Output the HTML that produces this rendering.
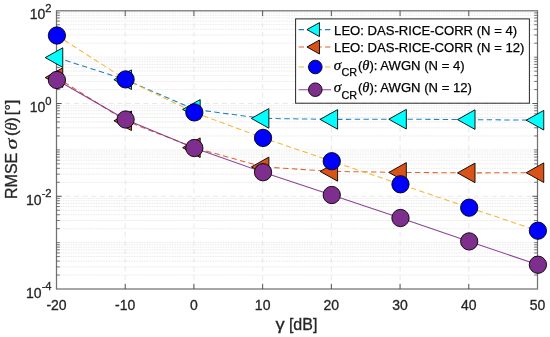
<!DOCTYPE html>
<html><head><meta charset="utf-8"><title>RMSE plot</title>
<style>html,body{margin:0;padding:0;background:#fff}body{width:550px;height:337px;overflow:hidden}</style></head>
<body>
<svg width="550" height="337" viewBox="0 0 550 337" style="display:block;font-family:'Liberation Sans',sans-serif">
<rect width="550" height="337" fill="#fff"/>
<g stroke="#cfcfcf" stroke-width="0.6" stroke-dasharray="0.75 0.9" fill="none">
<line x1="56.5" y1="275.04" x2="537.5" y2="275.04"/>
<line x1="56.5" y1="266.88" x2="537.5" y2="266.88"/>
<line x1="56.5" y1="261.08" x2="537.5" y2="261.08"/>
<line x1="56.5" y1="256.59" x2="537.5" y2="256.59"/>
<line x1="56.5" y1="252.92" x2="537.5" y2="252.92"/>
<line x1="56.5" y1="249.82" x2="537.5" y2="249.82"/>
<line x1="56.5" y1="247.13" x2="537.5" y2="247.13"/>
<line x1="56.5" y1="244.75" x2="537.5" y2="244.75"/>
<line x1="56.5" y1="228.68" x2="537.5" y2="228.68"/>
<line x1="56.5" y1="220.51" x2="537.5" y2="220.51"/>
<line x1="56.5" y1="214.72" x2="537.5" y2="214.72"/>
<line x1="56.5" y1="210.22" x2="537.5" y2="210.22"/>
<line x1="56.5" y1="206.55" x2="537.5" y2="206.55"/>
<line x1="56.5" y1="203.45" x2="537.5" y2="203.45"/>
<line x1="56.5" y1="200.76" x2="537.5" y2="200.76"/>
<line x1="56.5" y1="198.39" x2="537.5" y2="198.39"/>
<line x1="56.5" y1="182.31" x2="537.5" y2="182.31"/>
<line x1="56.5" y1="174.14" x2="537.5" y2="174.14"/>
<line x1="56.5" y1="168.35" x2="537.5" y2="168.35"/>
<line x1="56.5" y1="163.86" x2="537.5" y2="163.86"/>
<line x1="56.5" y1="160.19" x2="537.5" y2="160.19"/>
<line x1="56.5" y1="157.08" x2="537.5" y2="157.08"/>
<line x1="56.5" y1="154.39" x2="537.5" y2="154.39"/>
<line x1="56.5" y1="152.02" x2="537.5" y2="152.02"/>
<line x1="56.5" y1="135.94" x2="537.5" y2="135.94"/>
<line x1="56.5" y1="127.78" x2="537.5" y2="127.78"/>
<line x1="56.5" y1="121.98" x2="537.5" y2="121.98"/>
<line x1="56.5" y1="117.49" x2="537.5" y2="117.49"/>
<line x1="56.5" y1="113.82" x2="537.5" y2="113.82"/>
<line x1="56.5" y1="110.72" x2="537.5" y2="110.72"/>
<line x1="56.5" y1="108.03" x2="537.5" y2="108.03"/>
<line x1="56.5" y1="105.65" x2="537.5" y2="105.65"/>
<line x1="56.5" y1="89.58" x2="537.5" y2="89.58"/>
<line x1="56.5" y1="81.41" x2="537.5" y2="81.41"/>
<line x1="56.5" y1="75.62" x2="537.5" y2="75.62"/>
<line x1="56.5" y1="71.12" x2="537.5" y2="71.12"/>
<line x1="56.5" y1="67.45" x2="537.5" y2="67.45"/>
<line x1="56.5" y1="64.35" x2="537.5" y2="64.35"/>
<line x1="56.5" y1="61.66" x2="537.5" y2="61.66"/>
<line x1="56.5" y1="59.29" x2="537.5" y2="59.29"/>
<line x1="56.5" y1="43.21" x2="537.5" y2="43.21"/>
<line x1="56.5" y1="35.04" x2="537.5" y2="35.04"/>
<line x1="56.5" y1="29.25" x2="537.5" y2="29.25"/>
<line x1="56.5" y1="24.76" x2="537.5" y2="24.76"/>
<line x1="56.5" y1="21.09" x2="537.5" y2="21.09"/>
<line x1="56.5" y1="17.98" x2="537.5" y2="17.98"/>
<line x1="56.5" y1="15.29" x2="537.5" y2="15.29"/>
<line x1="56.5" y1="12.92" x2="537.5" y2="12.92"/>
<line x1="56.5" y1="242.63" x2="537.5" y2="242.63"/>
<line x1="56.5" y1="149.90" x2="537.5" y2="149.90"/>
<line x1="56.5" y1="57.17" x2="537.5" y2="57.17"/>
</g>
<g stroke="#d9d9d9" stroke-width="0.6" stroke-dasharray="5 3.7" fill="none">
<line x1="56.5" y1="196.27" x2="537.5" y2="196.27"/>
<line x1="56.5" y1="103.53" x2="537.5" y2="103.53"/>
<line x1="125.21" y1="289.0" x2="125.21" y2="10.8"/>
<line x1="193.93" y1="289.0" x2="193.93" y2="10.8"/>
<line x1="262.64" y1="289.0" x2="262.64" y2="10.8"/>
<line x1="331.36" y1="289.0" x2="331.36" y2="10.8"/>
<line x1="400.07" y1="289.0" x2="400.07" y2="10.8"/>
<line x1="468.79" y1="289.0" x2="468.79" y2="10.8"/>
</g>
<rect x="56.5" y="10.8" width="481.0" height="278.2" fill="none" stroke="#727272" stroke-width="1.25"/>
<g stroke="#444" stroke-width="0.9" fill="none">
<line x1="125.21" y1="289.0" x2="125.21" y2="283.8"/>
<line x1="125.21" y1="10.8" x2="125.21" y2="16.0"/>
<line x1="193.93" y1="289.0" x2="193.93" y2="283.8"/>
<line x1="193.93" y1="10.8" x2="193.93" y2="16.0"/>
<line x1="262.64" y1="289.0" x2="262.64" y2="283.8"/>
<line x1="262.64" y1="10.8" x2="262.64" y2="16.0"/>
<line x1="331.36" y1="289.0" x2="331.36" y2="283.8"/>
<line x1="331.36" y1="10.8" x2="331.36" y2="16.0"/>
<line x1="400.07" y1="289.0" x2="400.07" y2="283.8"/>
<line x1="400.07" y1="10.8" x2="400.07" y2="16.0"/>
<line x1="468.79" y1="289.0" x2="468.79" y2="283.8"/>
<line x1="468.79" y1="10.8" x2="468.79" y2="16.0"/>
<line x1="56.5" y1="196.27" x2="61.7" y2="196.27"/>
<line x1="537.5" y1="196.27" x2="532.3" y2="196.27"/>
<line x1="56.5" y1="103.53" x2="61.7" y2="103.53"/>
<line x1="537.5" y1="103.53" x2="532.3" y2="103.53"/>
</g>
<g stroke="#444" stroke-width="0.7" fill="none">
<line x1="56.5" y1="275.04" x2="59.9" y2="275.04"/>
<line x1="537.5" y1="275.04" x2="534.1" y2="275.04"/>
<line x1="56.5" y1="266.88" x2="59.9" y2="266.88"/>
<line x1="537.5" y1="266.88" x2="534.1" y2="266.88"/>
<line x1="56.5" y1="261.08" x2="59.9" y2="261.08"/>
<line x1="537.5" y1="261.08" x2="534.1" y2="261.08"/>
<line x1="56.5" y1="256.59" x2="59.9" y2="256.59"/>
<line x1="537.5" y1="256.59" x2="534.1" y2="256.59"/>
<line x1="56.5" y1="252.92" x2="59.9" y2="252.92"/>
<line x1="537.5" y1="252.92" x2="534.1" y2="252.92"/>
<line x1="56.5" y1="249.82" x2="59.9" y2="249.82"/>
<line x1="537.5" y1="249.82" x2="534.1" y2="249.82"/>
<line x1="56.5" y1="247.13" x2="59.9" y2="247.13"/>
<line x1="537.5" y1="247.13" x2="534.1" y2="247.13"/>
<line x1="56.5" y1="244.75" x2="59.9" y2="244.75"/>
<line x1="537.5" y1="244.75" x2="534.1" y2="244.75"/>
<line x1="56.5" y1="228.68" x2="59.9" y2="228.68"/>
<line x1="537.5" y1="228.68" x2="534.1" y2="228.68"/>
<line x1="56.5" y1="220.51" x2="59.9" y2="220.51"/>
<line x1="537.5" y1="220.51" x2="534.1" y2="220.51"/>
<line x1="56.5" y1="214.72" x2="59.9" y2="214.72"/>
<line x1="537.5" y1="214.72" x2="534.1" y2="214.72"/>
<line x1="56.5" y1="210.22" x2="59.9" y2="210.22"/>
<line x1="537.5" y1="210.22" x2="534.1" y2="210.22"/>
<line x1="56.5" y1="206.55" x2="59.9" y2="206.55"/>
<line x1="537.5" y1="206.55" x2="534.1" y2="206.55"/>
<line x1="56.5" y1="203.45" x2="59.9" y2="203.45"/>
<line x1="537.5" y1="203.45" x2="534.1" y2="203.45"/>
<line x1="56.5" y1="200.76" x2="59.9" y2="200.76"/>
<line x1="537.5" y1="200.76" x2="534.1" y2="200.76"/>
<line x1="56.5" y1="198.39" x2="59.9" y2="198.39"/>
<line x1="537.5" y1="198.39" x2="534.1" y2="198.39"/>
<line x1="56.5" y1="182.31" x2="59.9" y2="182.31"/>
<line x1="537.5" y1="182.31" x2="534.1" y2="182.31"/>
<line x1="56.5" y1="174.14" x2="59.9" y2="174.14"/>
<line x1="537.5" y1="174.14" x2="534.1" y2="174.14"/>
<line x1="56.5" y1="168.35" x2="59.9" y2="168.35"/>
<line x1="537.5" y1="168.35" x2="534.1" y2="168.35"/>
<line x1="56.5" y1="163.86" x2="59.9" y2="163.86"/>
<line x1="537.5" y1="163.86" x2="534.1" y2="163.86"/>
<line x1="56.5" y1="160.19" x2="59.9" y2="160.19"/>
<line x1="537.5" y1="160.19" x2="534.1" y2="160.19"/>
<line x1="56.5" y1="157.08" x2="59.9" y2="157.08"/>
<line x1="537.5" y1="157.08" x2="534.1" y2="157.08"/>
<line x1="56.5" y1="154.39" x2="59.9" y2="154.39"/>
<line x1="537.5" y1="154.39" x2="534.1" y2="154.39"/>
<line x1="56.5" y1="152.02" x2="59.9" y2="152.02"/>
<line x1="537.5" y1="152.02" x2="534.1" y2="152.02"/>
<line x1="56.5" y1="135.94" x2="59.9" y2="135.94"/>
<line x1="537.5" y1="135.94" x2="534.1" y2="135.94"/>
<line x1="56.5" y1="127.78" x2="59.9" y2="127.78"/>
<line x1="537.5" y1="127.78" x2="534.1" y2="127.78"/>
<line x1="56.5" y1="121.98" x2="59.9" y2="121.98"/>
<line x1="537.5" y1="121.98" x2="534.1" y2="121.98"/>
<line x1="56.5" y1="117.49" x2="59.9" y2="117.49"/>
<line x1="537.5" y1="117.49" x2="534.1" y2="117.49"/>
<line x1="56.5" y1="113.82" x2="59.9" y2="113.82"/>
<line x1="537.5" y1="113.82" x2="534.1" y2="113.82"/>
<line x1="56.5" y1="110.72" x2="59.9" y2="110.72"/>
<line x1="537.5" y1="110.72" x2="534.1" y2="110.72"/>
<line x1="56.5" y1="108.03" x2="59.9" y2="108.03"/>
<line x1="537.5" y1="108.03" x2="534.1" y2="108.03"/>
<line x1="56.5" y1="105.65" x2="59.9" y2="105.65"/>
<line x1="537.5" y1="105.65" x2="534.1" y2="105.65"/>
<line x1="56.5" y1="89.58" x2="59.9" y2="89.58"/>
<line x1="537.5" y1="89.58" x2="534.1" y2="89.58"/>
<line x1="56.5" y1="81.41" x2="59.9" y2="81.41"/>
<line x1="537.5" y1="81.41" x2="534.1" y2="81.41"/>
<line x1="56.5" y1="75.62" x2="59.9" y2="75.62"/>
<line x1="537.5" y1="75.62" x2="534.1" y2="75.62"/>
<line x1="56.5" y1="71.12" x2="59.9" y2="71.12"/>
<line x1="537.5" y1="71.12" x2="534.1" y2="71.12"/>
<line x1="56.5" y1="67.45" x2="59.9" y2="67.45"/>
<line x1="537.5" y1="67.45" x2="534.1" y2="67.45"/>
<line x1="56.5" y1="64.35" x2="59.9" y2="64.35"/>
<line x1="537.5" y1="64.35" x2="534.1" y2="64.35"/>
<line x1="56.5" y1="61.66" x2="59.9" y2="61.66"/>
<line x1="537.5" y1="61.66" x2="534.1" y2="61.66"/>
<line x1="56.5" y1="59.29" x2="59.9" y2="59.29"/>
<line x1="537.5" y1="59.29" x2="534.1" y2="59.29"/>
<line x1="56.5" y1="43.21" x2="59.9" y2="43.21"/>
<line x1="537.5" y1="43.21" x2="534.1" y2="43.21"/>
<line x1="56.5" y1="35.04" x2="59.9" y2="35.04"/>
<line x1="537.5" y1="35.04" x2="534.1" y2="35.04"/>
<line x1="56.5" y1="29.25" x2="59.9" y2="29.25"/>
<line x1="537.5" y1="29.25" x2="534.1" y2="29.25"/>
<line x1="56.5" y1="24.76" x2="59.9" y2="24.76"/>
<line x1="537.5" y1="24.76" x2="534.1" y2="24.76"/>
<line x1="56.5" y1="21.09" x2="59.9" y2="21.09"/>
<line x1="537.5" y1="21.09" x2="534.1" y2="21.09"/>
<line x1="56.5" y1="17.98" x2="59.9" y2="17.98"/>
<line x1="537.5" y1="17.98" x2="534.1" y2="17.98"/>
<line x1="56.5" y1="15.29" x2="59.9" y2="15.29"/>
<line x1="537.5" y1="15.29" x2="534.1" y2="15.29"/>
<line x1="56.5" y1="12.92" x2="59.9" y2="12.92"/>
<line x1="537.5" y1="12.92" x2="534.1" y2="12.92"/>
<line x1="56.5" y1="242.63" x2="59.9" y2="242.63"/>
<line x1="537.5" y1="242.63" x2="534.1" y2="242.63"/>
<line x1="56.5" y1="149.90" x2="59.9" y2="149.90"/>
<line x1="537.5" y1="149.90" x2="534.1" y2="149.90"/>
<line x1="56.5" y1="57.17" x2="59.9" y2="57.17"/>
<line x1="537.5" y1="57.17" x2="534.1" y2="57.17"/>
</g>
<g fill="#262626" stroke="#262626" stroke-width="0.3" font-size="14px">
<text x="56.50" y="309.5" text-anchor="middle">-20</text>
<text x="125.21" y="309.5" text-anchor="middle">-10</text>
<text x="193.93" y="309.5" text-anchor="middle">0</text>
<text x="262.64" y="309.5" text-anchor="middle">10</text>
<text x="331.36" y="309.5" text-anchor="middle">20</text>
<text x="400.07" y="309.5" text-anchor="middle">30</text>
<text x="468.79" y="309.5" text-anchor="middle">40</text>
<text x="537.50" y="309.5" text-anchor="middle">50</text>
<text x="51.6" y="297.50" text-anchor="end">10<tspan font-size="11.2px" dy="-7.3">-4</tspan></text>
<text x="51.6" y="204.77" text-anchor="end">10<tspan font-size="11.2px" dy="-7.3">-2</tspan></text>
<text x="51.6" y="112.03" text-anchor="end">10<tspan font-size="11.2px" dy="-7.3">0</tspan></text>
<text x="51.6" y="19.30" text-anchor="end">10<tspan font-size="11.2px" dy="-7.3">2</tspan></text>
</g>
<text x="275.6" y="330.4" font-size="16px" fill="#262626" stroke="#262626" stroke-width="0.3"><tspan textLength="9.2" lengthAdjust="spacingAndGlyphs">γ</tspan><tspan x="288.9">[dB]</tspan></text>
<g transform="translate(17.4,197.8) rotate(-90)" font-size="16px" fill="#262626" stroke="#262626" stroke-width="0.3">
<text x="-1.2" y="0">RMSE</text>
<text x="48.4" y="0" font-size="16px" textLength="10.8" lengthAdjust="spacingAndGlyphs" font-style="italic" font-family="'Liberation Serif',serif">σ</text>
<text x="61.7" y="0" font-size="16.5px">(<tspan font-style="italic" font-family="'Liberation Serif',serif" font-size="16px">θ</tspan>)</text>
<text x="82.6" y="0" font-size="16.5px">[<tspan font-size="16px">°</tspan>]</text>
</g>
<polyline points="56.90,57.60 125.61,79.70 194.33,109.40 263.04,118.40 331.76,119.40 400.47,119.20 469.19,119.60 537.90,120.20" fill="none" stroke="#0072BD" stroke-width="1.05" stroke-opacity="0.9" stroke-dasharray="5.4 3.4"/>
<polygon points="45.21,57.60 62.75,47.80 62.75,67.40" fill="#00FFFF" stroke="#000" stroke-width="0.9" stroke-linejoin="miter"/>
<polygon points="113.92,79.70 131.46,69.90 131.46,89.50" fill="#00FFFF" stroke="#000" stroke-width="0.9" stroke-linejoin="miter"/>
<polygon points="182.63,109.40 200.18,99.60 200.18,119.20" fill="#00FFFF" stroke="#000" stroke-width="0.9" stroke-linejoin="miter"/>
<polygon points="251.35,118.40 268.89,108.60 268.89,128.20" fill="#00FFFF" stroke="#000" stroke-width="0.9" stroke-linejoin="miter"/>
<polygon points="320.06,119.40 337.60,109.60 337.60,129.20" fill="#00FFFF" stroke="#000" stroke-width="0.9" stroke-linejoin="miter"/>
<polygon points="388.78,119.20 406.32,109.40 406.32,129.00" fill="#00FFFF" stroke="#000" stroke-width="0.9" stroke-linejoin="miter"/>
<polygon points="457.49,119.60 475.03,109.80 475.03,129.40" fill="#00FFFF" stroke="#000" stroke-width="0.9" stroke-linejoin="miter"/>
<polygon points="526.21,120.20 543.75,110.40 543.75,130.00" fill="#00FFFF" stroke="#000" stroke-width="0.9" stroke-linejoin="miter"/>
<polyline points="56.90,77.60 125.61,120.80 194.33,147.70 263.04,166.90 331.76,171.40 400.47,172.40 469.19,172.90 537.90,172.70" fill="none" stroke="#D95319" stroke-width="1.05" stroke-opacity="0.9" stroke-dasharray="5.4 3.4"/>
<polygon points="45.21,77.60 62.75,67.80 62.75,87.40" fill="#D95319" stroke="#000" stroke-width="0.9" stroke-linejoin="miter"/>
<polygon points="113.92,120.80 131.46,111.00 131.46,130.60" fill="#D95319" stroke="#000" stroke-width="0.9" stroke-linejoin="miter"/>
<polygon points="182.63,147.70 200.18,137.90 200.18,157.50" fill="#D95319" stroke="#000" stroke-width="0.9" stroke-linejoin="miter"/>
<polygon points="251.35,166.90 268.89,157.10 268.89,176.70" fill="#D95319" stroke="#000" stroke-width="0.9" stroke-linejoin="miter"/>
<polygon points="320.06,171.40 337.60,161.60 337.60,181.20" fill="#D95319" stroke="#000" stroke-width="0.9" stroke-linejoin="miter"/>
<polygon points="388.78,172.40 406.32,162.60 406.32,182.20" fill="#D95319" stroke="#000" stroke-width="0.9" stroke-linejoin="miter"/>
<polygon points="457.49,172.90 475.03,163.10 475.03,182.70" fill="#D95319" stroke="#000" stroke-width="0.9" stroke-linejoin="miter"/>
<polygon points="526.21,172.70 543.75,162.90 543.75,182.50" fill="#D95319" stroke="#000" stroke-width="0.9" stroke-linejoin="miter"/>
<polyline points="56.90,35.50 125.61,79.40 194.33,112.40 263.04,137.90 331.76,161.20 400.47,184.30 469.19,207.70 537.90,230.70" fill="none" stroke="#EDB120" stroke-width="1.05" stroke-opacity="0.9" stroke-dasharray="5.4 3.4"/>
<circle cx="56.90" cy="35.50" r="8.65" fill="#0000FF" stroke="#000" stroke-width="0.9"/>
<circle cx="125.61" cy="79.40" r="8.65" fill="#0000FF" stroke="#000" stroke-width="0.9"/>
<circle cx="194.33" cy="112.40" r="8.65" fill="#0000FF" stroke="#000" stroke-width="0.9"/>
<circle cx="263.04" cy="137.90" r="8.65" fill="#0000FF" stroke="#000" stroke-width="0.9"/>
<circle cx="331.76" cy="161.20" r="8.65" fill="#0000FF" stroke="#000" stroke-width="0.9"/>
<circle cx="400.47" cy="184.30" r="8.65" fill="#0000FF" stroke="#000" stroke-width="0.9"/>
<circle cx="469.19" cy="207.70" r="8.65" fill="#0000FF" stroke="#000" stroke-width="0.9"/>
<circle cx="537.90" cy="230.70" r="8.65" fill="#0000FF" stroke="#000" stroke-width="0.9"/>
<polyline points="56.90,80.00 125.61,119.50 194.33,148.00 263.04,172.20 331.76,195.00 400.47,218.00 469.19,241.40 537.90,264.75" fill="none" stroke="#7E2F8E" stroke-width="1.05" stroke-opacity="0.9"/>
<circle cx="56.90" cy="80.00" r="8.65" fill="#7E2F8E" stroke="#000" stroke-width="0.9"/>
<circle cx="125.61" cy="119.50" r="8.65" fill="#7E2F8E" stroke="#000" stroke-width="0.9"/>
<circle cx="194.33" cy="148.00" r="8.65" fill="#7E2F8E" stroke="#000" stroke-width="0.9"/>
<circle cx="263.04" cy="172.20" r="8.65" fill="#7E2F8E" stroke="#000" stroke-width="0.9"/>
<circle cx="331.76" cy="195.00" r="8.65" fill="#7E2F8E" stroke="#000" stroke-width="0.9"/>
<circle cx="400.47" cy="218.00" r="8.65" fill="#7E2F8E" stroke="#000" stroke-width="0.9"/>
<circle cx="469.19" cy="241.40" r="8.65" fill="#7E2F8E" stroke="#000" stroke-width="0.9"/>
<circle cx="537.90" cy="264.75" r="8.65" fill="#7E2F8E" stroke="#000" stroke-width="0.9"/>
<rect x="295.6" y="18.9" width="233.79999999999995" height="84.30000000000001" fill="#fff" stroke="#262626" stroke-width="1"/>
<line x1="298.6" y1="29.6" x2="331.0" y2="29.6" stroke="#0072BD" stroke-width="1.05" stroke-opacity="0.9" stroke-dasharray="5.4 3.4"/>
<line x1="298.6" y1="47.0" x2="331.0" y2="47.0" stroke="#D95319" stroke-width="1.05" stroke-opacity="0.9" stroke-dasharray="5.4 3.4"/>
<line x1="298.6" y1="67.0" x2="331.0" y2="67.0" stroke="#EDB120" stroke-width="1.05" stroke-opacity="0.9" stroke-dasharray="5.4 3.4"/>
<line x1="298.6" y1="89.7" x2="331.0" y2="89.7" stroke="#7E2F8E" stroke-width="1.05" stroke-opacity="0.9"/>
<polygon points="306.95,29.60 319.48,22.60 319.48,36.60" fill="#00FFFF" stroke="#000" stroke-width="0.9" stroke-linejoin="miter"/>
<polygon points="306.95,47.00 319.48,40.00 319.48,54.00" fill="#D95319" stroke="#000" stroke-width="0.9" stroke-linejoin="miter"/>
<circle cx="315.30" cy="67.00" r="6.8" fill="#0000FF" stroke="#000" stroke-width="0.9"/>
<circle cx="315.30" cy="89.70" r="6.8" fill="#7E2F8E" stroke="#000" stroke-width="0.9"/>
<g fill="#000" stroke="#000" stroke-width="0.25" font-size="13.1px">
<text x="334.1" y="34.6">LEO: DAS-RICE-CORR (N = 4)</text>
<text x="334.1" y="52.0">LEO: DAS-RICE-CORR (N = 12)</text>
<text x="333.8" y="69.6"><tspan font-style="italic" font-size="15px" font-family="'Liberation Serif',serif">σ</tspan><tspan font-size="10.8px" dy="6.2" dx="0.3">CR</tspan><tspan dy="-6.2" dx="0.8">(</tspan><tspan font-style="italic" font-size="14.5px" font-family="'Liberation Serif',serif">θ</tspan>): AWGN (N = 4)</text>
<text x="333.8" y="92.3"><tspan font-style="italic" font-size="15px" font-family="'Liberation Serif',serif">σ</tspan><tspan font-size="10.8px" dy="6.2" dx="0.3">CR</tspan><tspan dy="-6.2" dx="0.8">(</tspan><tspan font-style="italic" font-size="14.5px" font-family="'Liberation Serif',serif">θ</tspan>): AWGN (N = 12)</text>
</g>
</svg>
</body></html>
